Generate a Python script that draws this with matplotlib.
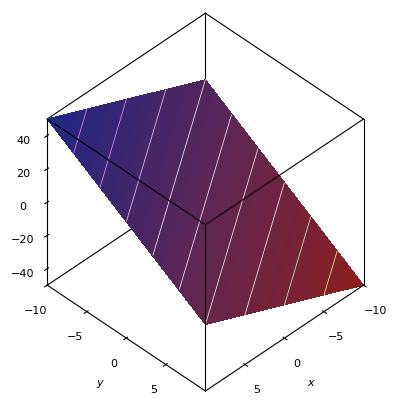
import numpy as np
import matplotlib
matplotlib.use("Agg")
import matplotlib.pyplot as plt
from matplotlib.colors import LinearSegmentedColormap

x_range = [-10, 10]
y_range = [-10, 10]
z_range = [-50, 50]
coef_x, coef_y = 2, -3          # plane z = 2x - 3y
contour_levels = [-40, -30, -20, -10, 0, 10, 20, 30, 40]
xticks = [-10, -5, 0, 5]
yticks = [-10, -5, 0, 5]
zticks = [-40, -20, 0, 20, 40]

fig = plt.figure(figsize=(4.0, 4.15), dpi=100)
ax = fig.add_axes([0, 0, 1, 1], projection='3d')
ax.computed_zorder = False
ax.set_proj_type('ortho')
ax.view_init(elev=42, azim=45)

def edge(p, q, z):
    ax.plot([p[0], q[0]], [p[1], q[1]], [p[2], q[2]], color='k', lw=0.8, zorder=z)

corners = [(a, b, c) for a in x_range for b in y_range for c in z_range]
back = (-10, -10)
for i, p in enumerate(corners):
    for q in corners[i + 1:]:
        if sum(pi != qi for pi, qi in zip(p, q)) == 1:
            hidden = (p[0], p[1]) == back or (q[0], q[1]) == back
            if hidden:
                edge(p, q, 1)

X, Y = np.meshgrid(np.linspace(*x_range, 60), np.linspace(*y_range, 60))
Z = coef_x * X + coef_y * Y
cmap = LinearSegmentedColormap.from_list('m', [(0.55, 0.12, 0.12), (0.36, 0.15, 0.33), (0.12, 0.15, 0.52)])
norm = plt.Normalize(-50, 50)
ax.plot_surface(X, Y, Z, facecolors=cmap(norm(Z)), shade=False, linewidth=0,
                antialiased=False, rstride=1, cstride=1, zorder=2)
line_cols = ['#e0e070', '#b0e0b0', '#e0e0e0', '#e0e0e0', '#e0e0e0', '#e0e0e0', '#e0b0e0', '#e080e0', '#e080e0']
for lv, c in zip(contour_levels, line_cols):
    ys = np.linspace(*y_range, 200)
    xs = (lv - coef_y * ys) / coef_x
    m = (xs >= -10) & (xs <= 10)
    ax.plot(xs[m], ys[m], np.full(m.sum(), lv), color=c, lw=0.6, zorder=3)

for i, p in enumerate(corners):
    for q in corners[i + 1:]:
        if sum(pi != qi for pi, qi in zip(p, q)) == 1:
            hidden = (p[0], p[1]) == back or (q[0], q[1]) == back
            if not hidden:
                edge(p, q, 4)

ax.set_xlim(*x_range); ax.set_ylim(*y_range); ax.set_zlim(*z_range)
ax.set_xticks(xticks); ax.set_yticks(yticks); ax.set_zticks(zticks)
ax.set_box_aspect((1, 1, 1), zoom=0.94)
ax.grid(False)
for axis in (ax.xaxis, ax.yaxis, ax.zaxis):
    axis.pane.fill = False
    axis.pane.set_edgecolor('none')
    axis.line.set_color('none')
ax.tick_params(labelsize=8)
ax.set_xlabel('x', fontstyle='italic', fontsize=8)
ax.set_ylabel('y', fontstyle='italic', fontsize=8)
fig.savefig('out.png', dpi=100)
